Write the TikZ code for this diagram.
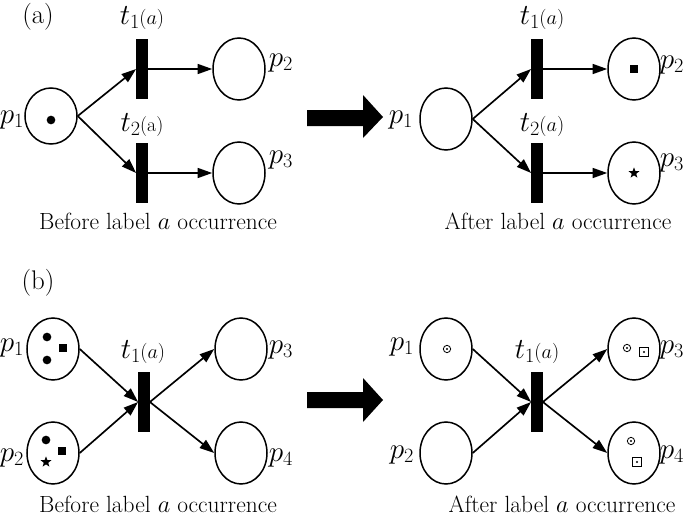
\documentclass[tikz,border=0pt]{standalone}
\usetikzlibrary{shapes.geometric,arrows.meta}

\newcommand{\trlabel}[2]{$t_{#1}$\kern-0.5pt{\fontsize{17}{20}\selectfont #2}}

\begin{document}
\begin{tikzpicture}[x=0.3mm, y=-0.3mm,
  place/.style={ellipse, draw, line width=0.45mm, minimum width=15.6mm, minimum height=18.6mm, inner sep=0pt},
  trans/.style={rectangle, fill=black, minimum width=3.4mm, minimum height=18mm, inner sep=0pt},
  arcline/.style={line width=0.5mm, -{Triangle[length=4.4mm,width=3mm]}},
  lab/.style={font=\fontsize{24}{28}\selectfont, inner sep=0pt},
  tlab/.style={font=\fontsize{25}{30}\selectfont, inner sep=0pt},
  captxt/.style={font=\fontsize{20}{24}\selectfont, inner sep=0pt},
  parttxt/.style={font=\fontsize{23}{27}\selectfont, inner sep=0pt},
  tokdot/.style={circle, fill=black, inner sep=0pt, minimum size=2.6mm},
  toksq/.style={rectangle, fill=black, inner sep=0pt, minimum size=2.6mm},
  tokstar/.style={star, star points=5, star point ratio=2.4, fill=black, inner sep=0pt, minimum size=3.4mm},
  tokodot/.style={circle, draw, line width=0.25mm, inner sep=0pt, minimum size=2.2mm,
    path picture={\fill (path picture bounding box.center) circle (0.35mm);}},
  tokobox/.style={rectangle, draw, line width=0.25mm, inner sep=0pt, minimum size=2.6mm,
    path picture={\fill (path picture bounding box.center) circle (0.35mm);}}]
\useasboundingbox (0,0) rectangle (685,516);

\node[parttxt] (parta) at (38,17) {(a)};
\node[place, minimum height=16.8mm] (a1p1) at (51,116) {};
\node[tokdot] (a1p1tok) at (51,120) {};
\node[lab] (a1p1lab) at (12,120) {$p_1$};
\node[trans] (a1t1) at (142,69) {};
\node[trans] (a1t2) at (142,173) {};
\node[tlab] (a1t1lab) at (142,18) {\trlabel{1}{$(a)$}};
\node[tlab] (a1t2lab) at (142,125) {\trlabel{2}{(a)}};
\node[place] (a1p2) at (239,69) {};
\node[place] (a1p3) at (239,173) {};
\node[lab] (a1p2lab) at (281,63) {$p_2$};
\node[lab] (a1p3lab) at (281,160) {$p_3$};
\node[captxt] (a1cap) at (158,221) {Before label $a$ occurrence};

\draw[arcline] (a1p1.east) -- (a1t1.west);
\draw[arcline] (a1p1.east) -- (a1t2.west);
\draw[arcline] (a1t1.east) -- (a1p2.west);
\draw[arcline] (a1t2.east) -- (a1p3.west);

\fill (307,110) -- (363,110) -- (363,95) -- (383,117) -- (363,138) -- (363,126) -- (307,126) -- cycle;

\node[place] (a2p1) at (446,119) {};
\node[lab] (a2p1lab) at (401,120) {$p_1$};
\node[trans] (a2t1) at (537,69) {};
\node[trans] (a2t2) at (537,173) {};
\node[tlab] (a2t1lab) at (542,18) {\trlabel{1}{$(a)$}};
\node[tlab] (a2t2lab) at (542,125) {\trlabel{2}{$(a)$}};
\node[place] (a2p2) at (634,69) {};
\node[place] (a2p3) at (634,173) {};
\node[toksq] (a2p2tok) at (634,69) {};
\node[tokstar] (a2p3tok) at (634,173) {};
\node[lab] (a2p2lab) at (672,65) {$p_2$};
\node[lab] (a2p3lab) at (672,163) {$p_3$};
\node[captxt] (a2cap) at (558,221) {After label $a$ occurrence};

\draw[arcline] (a2p1.east) -- (a2t1.west);
\draw[arcline] (a2p1.east) -- (a2t2.west);
\draw[arcline] (a2t1.east) -- (a2p2.west);
\draw[arcline] (a2t2.east) -- (a2p3.west);

\node[parttxt] (partb) at (38,283) {(b)};
\node[place] (b1p1) at (53,349) {};
\node[place] (b1p2) at (53,453) {};
\node[tokdot] (b1p1tok1) at (47,337) {};
\node[tokdot] (b1p1tok2) at (47,360) {};
\node[toksq] (b1p1tok3) at (63,348) {};
\node[tokdot] (b1p2tok1) at (46,440) {};
\node[toksq] (b1p2tok2) at (62,451) {};
\node[tokstar] (b1p2tok3) at (46,462) {};
\node[lab] (b1p1lab) at (12,348) {$p_1$};
\node[lab] (b1p2lab) at (12,458) {$p_2$};
\node[trans] (b1t1) at (144,402) {};
\node[tlab] (b1t1lab) at (143,352) {\trlabel{1}{$(a)$}};
\node[place] (b1p3) at (241,349) {};
\node[place] (b1p4) at (241,453) {};
\node[lab] (b1p3lab) at (281,350) {$p_3$};
\node[lab] (b1p4lab) at (281,458) {$p_4$};
\node[captxt] (b1cap) at (158,504) {Before label $a$ occurrence};

\draw[arcline] (b1p1.east) -- (b1t1.west);
\draw[arcline] (b1p2.east) -- (b1t1.west);
\draw[arcline] (b1t1.east) -- (b1p3.west);
\draw[arcline] (b1t1.east) -- (b1p4.west);

\fill (307,392) -- (363,392) -- (363,378) -- (383,400) -- (363,422) -- (363,408) -- (307,408) -- cycle;

\node[place] (b2p1) at (446,349) {};
\node[place] (b2p2) at (446,453) {};
\node[tokodot] (b2p1tok) at (447,349) {};
\node[lab] (b2p1lab) at (402,347) {$p_1$};
\node[lab] (b2p2lab) at (402,455) {$p_2$};
\node[trans] (b2t1) at (537,402) {};
\node[tlab] (b2t1lab) at (537,352) {\trlabel{1}{$(a)$}};
\node[place] (b2p3) at (634,349) {};
\node[place] (b2p4) at (634,453) {};
\node[tokodot] (b2p3tok1) at (627,348) {};
\node[tokobox] (b2p3tok2) at (644,352) {};
\node[tokodot] (b2p4tok1) at (631,441) {};
\node[tokobox] (b2p4tok2) at (637,462) {};
\node[lab] (b2p3lab) at (672,350) {$p_3$};
\node[lab] (b2p4lab) at (672,455) {$p_4$};
\node[captxt] (b2cap) at (562,504) {After label $a$ occurrence};

\draw[arcline] (b2p1.east) -- (b2t1.west);
\draw[arcline] (b2p2.east) -- (b2t1.west);
\draw[arcline] (b2t1.east) -- (b2p3.west);
\draw[arcline] (b2t1.east) -- (b2p4.west);
\end{tikzpicture}
\end{document}
